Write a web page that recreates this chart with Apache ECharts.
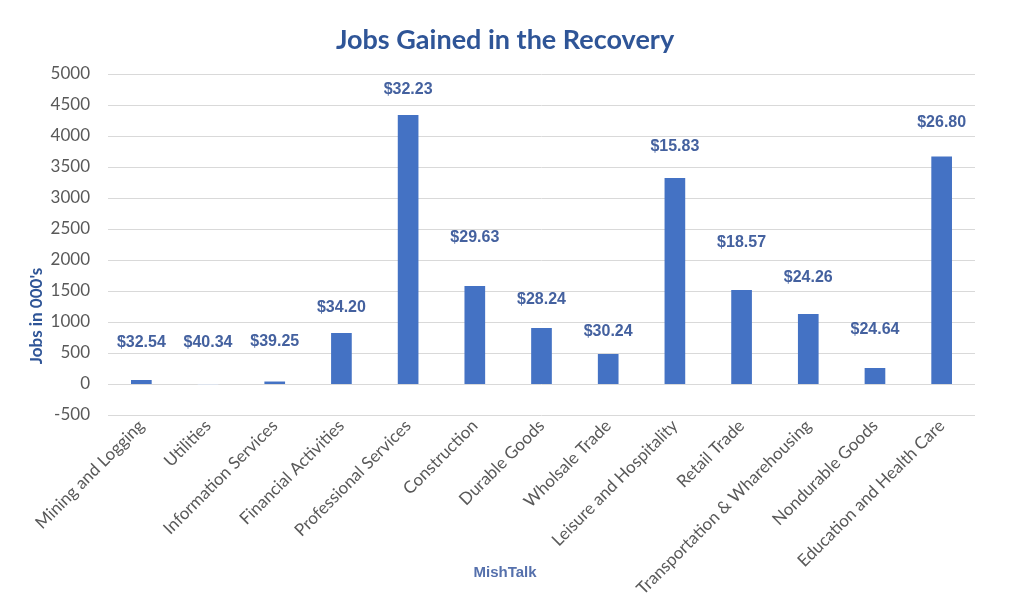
<!DOCTYPE html>
<html>
<head>
<meta charset="utf-8">
<script src="https://cdn.jsdelivr.net/npm/echarts@6/dist/echarts.min.js"></script>
<style>
  html, body { margin: 0; padding: 0; background: #fff; }
  #main { width: 1010px; height: 612px; }
</style>
</head>
<body>
<div id="main"></div>
<script>
// sectors on the x axis
var sectors = ['Mining and Logging', 'Utilities', 'Information Services', 'Financial Activities',
  'Professional Services', 'Construction', 'Durable Goods', 'Wholsale Trade',
  'Leisure and Hospitality', 'Retail Trade', 'Transportation & Wharehousing',
  'Nondurable Goods', 'Education and Health Care'];
// jobs gained, thousands
var jobsGained = [65, -12, 40, 822, 4340, 1581, 903, 484, 3323, 1516, 1129, 258, 3669];
// average hourly wage shown over each bar
var hourlyWage = ['$32.54', '$40.34', '$39.25', '$34.20', '$32.23', '$29.63', '$28.24',
  '$30.24', '$15.83', '$18.57', '$24.26', '$24.64', '$26.80'];
// height (in axis units) where the wage label sits
var wageLabelLevel = [672, 660, 690, 1237, 4753, 2360, 1366, 844, 3827, 2285, 1715, 871, 4218];
var yTicks = { min: -500, max: 5000, interval: 500 };

var chart = echarts.init(document.getElementById('main'));

var barData = jobsGained.map(function (v) {
  if (v < 0) return { value: v, itemStyle: { color: '#dfe7f5' } };
  return v;
});

var option = {
  animation: false,
  title: {
    text: 'Jobs Gained in the Recovery',
    left: 'center',
    top: 22,
    textStyle: { fontFamily: 'Lato', fontWeight: 'bold', fontSize: 27, color: '#2F5597' }
  },
  grid: { left: 108, right: 35, top: 74, bottom: 197 },
  xAxis: {
    type: 'category',
    data: sectors,
    axisLine: { show: false, onZero: false },
    axisTick: { show: false },
    axisLabel: {
      rotate: 45,
      interval: 0,
      margin: 8,
      fontFamily: 'Lato',
      fontSize: 17,
      color: '#595959'
    }
  },
  yAxis: {
    type: 'value',
    min: yTicks.min,
    max: yTicks.max,
    interval: yTicks.interval,
    axisLine: { show: false },
    axisTick: { show: false },
    axisLabel: {
      fontFamily: 'Lato', fontSize: 17, color: '#595959', margin: 18,
      formatter: function (v) { return String(v); }
    },
    splitLine: { lineStyle: { color: '#D9D9D9', width: 1 } }
  },
  graphic: [
    {
      type: 'text',
      x: 37, y: 316,
      rotation: Math.PI / 2,
      style: {
        text: "Jobs in 000's",
        fontFamily: 'Lato', fontWeight: 'bold', fontSize: 17,
        fill: '#2F5597', align: 'center', verticalAlign: 'middle'
      }
    },
    {
      type: 'text',
      x: 505, y: 573,
      style: {
        text: 'MishTalk',
        fontFamily: 'Liberation Sans', fontWeight: 'bold', fontSize: 15,
        fill: '#5570AC', align: 'center', verticalAlign: 'middle'
      }
    }
  ],
  series: [
    {
      name: 'Jobs Gained',
      type: 'bar',
      data: barData,
      barWidth: '31%',
      itemStyle: { color: '#4472C4' }
    },
    {
      name: 'Hourly Wage',
      type: 'scatter',
      data: wageLabelLevel,
      symbolSize: 0,
      itemStyle: { color: '#ffffff', opacity: 1 },
      label: {
        show: true,
        position: 'inside',
        formatter: function (p) { return hourlyWage[p.dataIndex]; },
        fontFamily: 'Liberation Sans', fontWeight: 'bold', fontSize: 16,
        color: '#44619F',
        textBorderWidth: 0
      }
    }
  ]
};

chart.setOption(option);
</script>
</body>
</html>
